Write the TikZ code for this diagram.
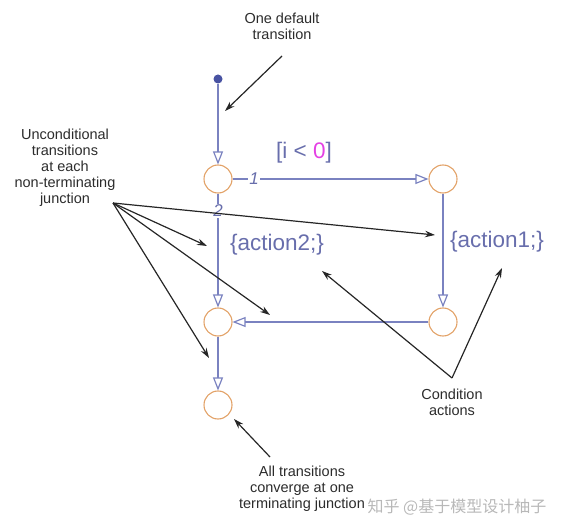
\documentclass[tikz,border=0pt]{standalone}
\usepackage{fontspec}
\setmainfont{Liberation Sans}
\newfontfamily\cjk{Noto Sans CJK SC}
\usetikzlibrary{arrows.meta}

\definecolor{transblue}{RGB}{122,130,192}
\definecolor{labelblue}{RGB}{104,110,172}
\definecolor{juncorange}{RGB}{226,162,104}
\definecolor{dotblue}{RGB}{72,82,162}
\definecolor{guardpink}{RGB}{228,64,228}
\definecolor{notegray}{RGB}{44,44,44}

\begin{document}
\begin{tikzpicture}[x=1pt, y=-1pt,
    junction/.style={circle, draw=juncorange, line width=1.1pt, minimum size=28pt, inner sep=0pt},
    trans/.style={draw=transblue, line width=1.2pt, -{Triangle[open, length=13pt, width=10pt, fill=white]}},
    transnum/.style={fill=white, inner sep=1pt, text=labelblue, font=\fontsize{17}{19}\selectfont\itshape},
    actlabel/.style={text=labelblue, font=\fontsize{22.5}{26}\selectfont},
    note/.style={align=center, text=notegray, font=\fontsize{14.5}{16}\selectfont},
    pointer/.style={draw=black!85, line width=1.2pt, -{Stealth[length=10pt, width=6.5pt]}}]
    \useasboundingbox (0,0) rectangle (562,529);

    % junctions
    \node[circle, fill=dotblue, inner sep=0pt, minimum size=9pt] (dflt) at (218,79) {};
    \node[junction] (j1) at (218,179) {};
    \node[junction] (j2) at (443,179) {};
    \node[junction] (j3) at (443,322) {};
    \node[junction] (j4) at (218,322) {};
    \node[junction] (j5) at (218,405) {};

    % transitions
    \draw[trans] (dflt) -- (j1);
    \draw[trans] (j1) -- node[transnum, pos=0.11]{1} (j2);
    \draw[trans] (j1) -- node[transnum, pos=0.15]{2} (j4);
    \draw[trans] (j2) -- (j3);
    \draw[trans] (j3) -- (j4);
    \draw[trans] (j4) -- (j5);

    \node[actlabel] (guard) at (304,153) {[i < \textcolor{guardpink}{0}]};
    \node[actlabel] (act2) at (277,245) {\{action2;\}};
    \node[actlabel] (act1) at (497,242) {\{action1;\}};

    % notes
    \node[note] (ndefault) at (282,26) {One default\\transition};
    \node[note] (nuncond) at (65,168) {Unconditional\\transitions\\at each\\non-terminating\\junction};
    \node[note] (ncond) at (452,402) {Condition\\actions};
    \node[note] (nconv) at (302,489) {All transitions\\converge at one\\terminating junction};
    \node[text=black!28, font=\cjk\fontsize{16}{18}\selectfont, anchor=west] (wmark) at (364,507) {知乎 @基于模型设计柚子};

    % pointers
    \coordinate (pd) at (282,56);
    \coordinate (pd1) at (225,111);
    \coordinate (pu) at (113,203);
    \coordinate (pu1) at (435,235);
    \coordinate (pu2) at (207,246);
    \coordinate (pu3) at (270,315);
    \coordinate (pu4) at (209,358);
    \coordinate (pc) at (452,378);
    \coordinate (pc1) at (322,271);
    \coordinate (pc2) at (502,268);
    \coordinate (pt) at (270,457);
    \coordinate (pt1) at (234,419);

    \draw[pointer] (pd) -- (pd1);
    \foreach \i in {1,...,4}
        \draw[pointer] (pu) -- (pu\i);
    \draw[pointer] (pc) -- (pc1);
    \draw[pointer] (pc) -- (pc2);
    \draw[pointer] (pt) -- (pt1);
\end{tikzpicture}
\end{document}
